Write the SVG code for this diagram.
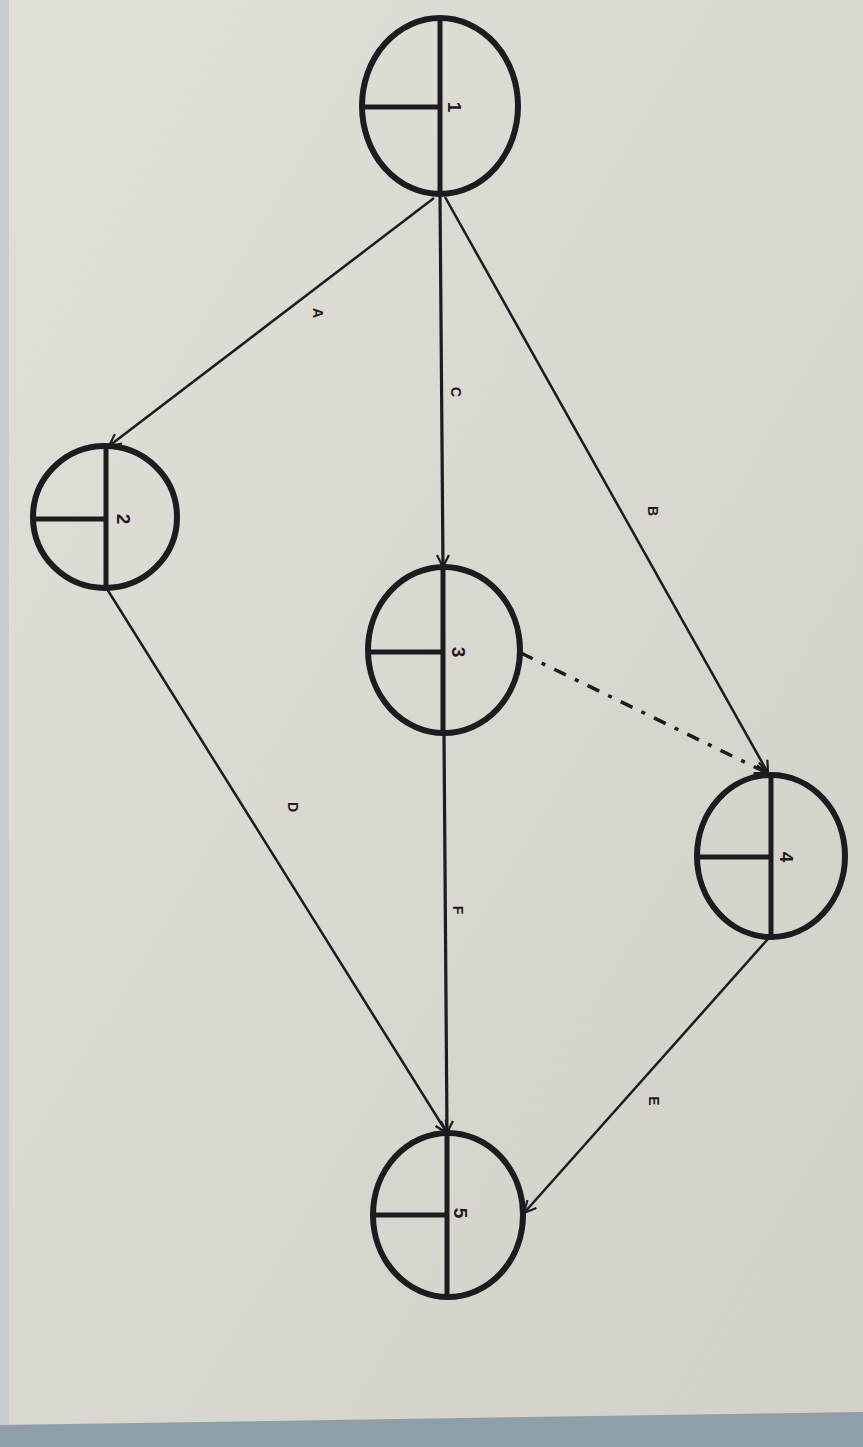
<svg xmlns="http://www.w3.org/2000/svg" width="863" height="1447" viewBox="0 0 863 1447">
<style>
.node ellipse{fill:none;stroke:#1e1a1e;stroke-width:6}
.node line{stroke:#1e1a1e;stroke-width:5}
.num{font-family:"Liberation Sans",Arial,sans-serif;font-size:19px;font-weight:bold;fill:#1e1a1e;text-anchor:middle;dominant-baseline:central}
.lbl{font-family:"Liberation Sans",Arial,sans-serif;font-size:14px;font-weight:bold;fill:#1e1a1e;text-anchor:middle;dominant-baseline:central}
.edge{stroke:#1e1a1e;stroke-width:2.5;fill:none;marker-end:url(#arr)}
.thick{stroke-width:3.2}
.dummy{stroke:#1e1a1e;stroke-width:3.5;fill:none;stroke-dasharray:13 10 4 10;marker-end:url(#arr)}
</style>
<defs>
<linearGradient id="bg" x1="0" y1="0" x2="1" y2="1">
<stop offset="0" stop-color="#e1dfd8"/>
<stop offset="1" stop-color="#d3d0c8"/>
</linearGradient>
<marker id="arr" viewBox="0 0 14 14" refX="13" refY="7" markerWidth="14" markerHeight="14" markerUnits="userSpaceOnUse" orient="auto">
<path d="M1,1 L13,7 L1,13" fill="none" stroke="#1e1a1e" stroke-width="2.2"/>
</marker>
</defs>
<rect width="863" height="1447" fill="url(#bg)"/>
<rect x="0" y="0" width="9" height="1447" fill="#c9cdcc"/>
<polygon points="0,1425 863,1412 863,1447 0,1447" fill="#8d9fa8"/>
<g id="connectors">
<line class="edge" x1="434" y1="198" x2="109" y2="446"/>
<line class="edge thick" x1="440" y1="195" x2="443" y2="567"/>
<line class="edge" x1="445" y1="197" x2="768" y2="773"/>
<line class="edge" x1="107" y1="589" x2="447" y2="1133"/>
<line class="edge thick" x1="444" y1="734" x2="447" y2="1133"/>
<line class="edge" x1="768" y1="939" x2="524" y2="1213"/>
<line class="dummy" x1="521" y1="653" x2="767" y2="773"/>
<text class="lbl" transform="translate(318,313) rotate(90)">A</text>
<text class="lbl" transform="translate(456,392) rotate(90)">C</text>
<text class="lbl" transform="translate(653,511) rotate(90)">B</text>
<text class="lbl" transform="translate(293,807) rotate(90)">D</text>
<text class="lbl" transform="translate(458,910) rotate(90)">F</text>
<text class="lbl" transform="translate(654,1101) rotate(90)">E</text>
</g>
<g id="node1" class="node">
<ellipse cx="440" cy="106" rx="78" ry="88"/>
<line x1="440" y1="18" x2="440" y2="194"/>
<line x1="362" y1="107" x2="440" y2="107"/>
<text class="num" transform="translate(454,107) rotate(90)">1</text>
</g>
<g id="node2" class="node">
<ellipse cx="105" cy="517" rx="72" ry="71"/>
<line x1="106" y1="446" x2="106" y2="588"/>
<line x1="33" y1="519" x2="106" y2="519"/>
<text class="num" transform="translate(123,519) rotate(90)">2</text>
</g>
<g id="node3" class="node">
<ellipse cx="444" cy="650" rx="76" ry="83"/>
<line x1="443" y1="567" x2="443" y2="733"/>
<line x1="368" y1="652" x2="443" y2="652"/>
<text class="num" transform="translate(458,652) rotate(90)">3</text>
</g>
<g id="node4" class="node">
<ellipse cx="771" cy="856" rx="74" ry="81"/>
<line x1="771" y1="775" x2="771" y2="937"/>
<line x1="697" y1="857" x2="771" y2="857"/>
<text class="num" transform="translate(786,857) rotate(90)">4</text>
</g>
<g id="node5" class="node">
<ellipse cx="448" cy="1215" rx="75" ry="82"/>
<line x1="447" y1="1133" x2="447" y2="1297"/>
<line x1="373" y1="1215" x2="447" y2="1215"/>
<text class="num" transform="translate(460,1213) rotate(90)">5</text>
</g>
</svg>
